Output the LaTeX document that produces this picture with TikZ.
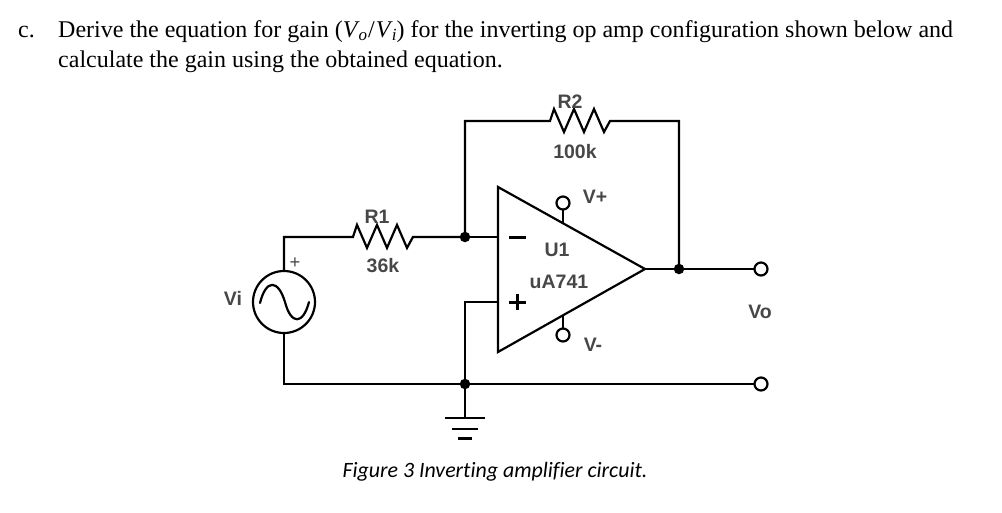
\documentclass[tikz,border=0pt]{standalone}
\usepackage{fontspec}
\setmainfont{Liberation Serif}
\setsansfont{Liberation Sans}
\newfontfamily\capfont[Ligatures=NoCommon]{Carlito}
\tikzset{
  wire/.style={line width=2.2pt, line cap=rect},
  dotjoin/.style={circle, fill=black, inner sep=0pt, minimum size=10.5pt},
  term/.style={circle, draw, line width=2.2pt, fill=white, inner sep=0pt, minimum size=13pt},
  part/.style={font=\sffamily\bfseries\fontsize{19.5}{19.5}\selectfont, text=black!72, inner sep=0pt},
  para/.style={font=\fontsize{24}{30}\selectfont, anchor=base west, inner sep=0pt},
}
\newcommand{\zigzag}{-- ++(4,-12) -- ++(10,23) -- ++(10,-23) -- ++(10,23) -- ++(10,-23) -- ++(10,23) -- ++(6,-11)}
\newcommand{\subvar}[1]{\textit{V}\kern-1pt\raisebox{-3.5pt}{\fontsize{17}{17}\selectfont\textit{#1}}}
\begin{document}
\begin{tikzpicture}[x=1pt, y=-1pt]
\useasboundingbox (0,0) rectangle (1002,512);

% question text
\node[para] (item) at (18,37) {c.};
\node[para] (line1) at (58,37) {Derive the equation for gain (\subvar{o}\kern1pt/\kern1pt\subvar{i}) for the inverting op amp configuration shown below and};
\node[para] (line2) at (58,67) {calculate the gain using the obtained equation.};

% op amp
\draw[wire, line join=miter] (498,187) coordinate (ampTL) -- (645,269) coordinate (ampTip) -- (498,352) coordinate (ampBL) -- cycle;
\path (498,237) coordinate (ampMinus) (498,302) coordinate (ampPlus);

% junctions and terminals
\node[dotjoin] (nodeA) at (465,237) {};
\node[dotjoin] (nodeB) at (465,384) {};
\node[dotjoin] (nodeC) at (679,269) {};
\node[term] (outTop) at (761,269) {};
\node[term] (outBot) at (761,384) {};
\node[term] (supUp) at (563,203) {};
\node[term] (supDown) at (563,335) {};
\node[circle, draw, line width=2.2pt, inner sep=0pt, minimum size=62pt] (src) at (284,302) {};

% source
\draw[line width=2.2pt, line cap=round] (260,303) .. controls (266,279) and (278,279) .. (285,302) .. controls (291,325) and (303,325) .. (309,302);

% input side
\draw[wire] (src.north) -- ++(0,-33) coordinate (corner) -- ++(69,0) \zigzag -- (nodeA);
\draw[wire] (src.south) |- (nodeB);
\draw[wire] (nodeA) -- (ampMinus);
\draw[wire] (nodeB) -- (outBot);
\draw[wire] (ampPlus) -| (nodeB);

% feedback
\draw[wire] (nodeA) -- (465,121) -- (550,121) \zigzag -- (679,121) -- (nodeC);
\draw[wire] (ampTip) -- (nodeC) -- (outTop);

% supply pins
\draw[wire] (supUp) -- (563,222);
\draw[wire] (supDown) -- (563,317);

% ground
\draw[wire] (nodeB) -- ++(0,34) coordinate (gnd);
\draw[wire, line cap=butt] (gnd) ++(-20,0) -- ++(40,0);
\draw[wire, line cap=butt] (gnd) ++(-13,11) -- ++(26,0);
\draw[line width=3pt] (gnd) ++(-7,20) -- ++(14,0);

% labels
\node[part] (lblVi) at (233,298) {Vi};
\node[part, font=\sffamily\fontsize{18.5}{18.5}\selectfont] (lblSrc) at (295,263) {+};
\node[part] (lblR1) at (377,217) {R1};
\node[part] (lbl36k) at (383,266) {36k};
\node[part] (lblR2) at (570,102) {R2};
\node[part] (lbl100k) at (575,152) {100k};
\node[part] (lblVp) at (595,197) {V+};
\node[part] (lblVm) at (593,345) {V-};
\node[part] (lblU1) at (557,250) {U1};
\node[part] (lblType) at (559,282) {uA741};
\node[part] (lblVo) at (760,312) {Vo};
\draw[line width=3pt] (509,237) coordinate (minusStart) -- (526,237);
\draw[line width=3pt] (509,302) coordinate (plusStart) -- (526,302) (517.5,294) -- (517.5,310);

% caption
\node[font=\capfont\itshape\fontsize{21.9}{21.9}\selectfont, anchor=base, inner sep=0pt] (caption) at (495,477) {Figure 3 Inverting amplifier circuit.};
\end{tikzpicture}
\end{document}
